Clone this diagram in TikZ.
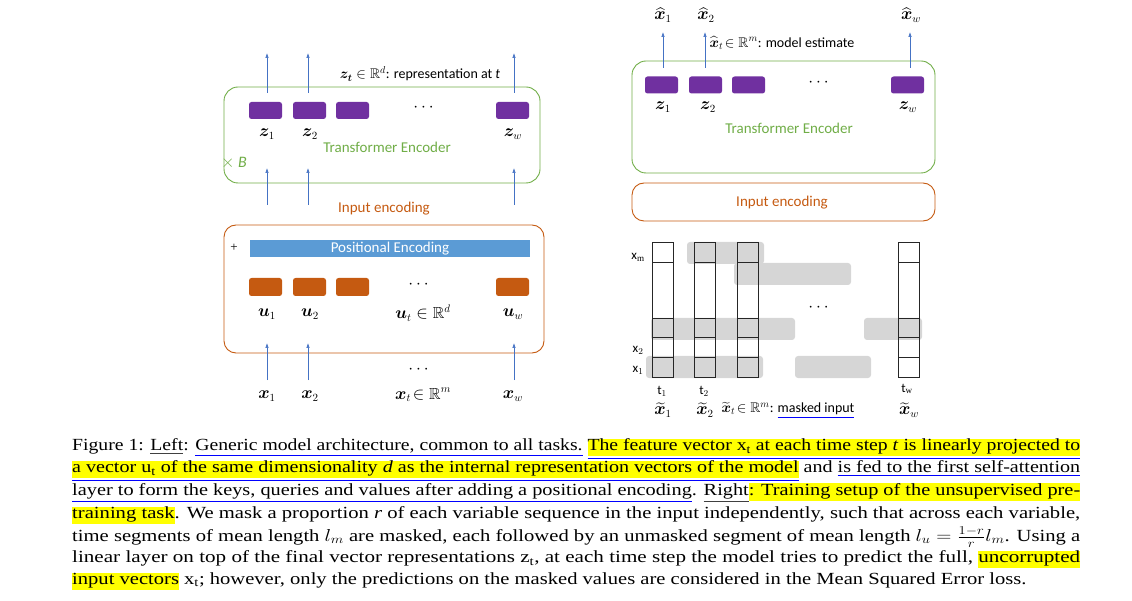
\documentclass[tikz,border=0pt]{standalone}
\usepackage{amsmath,amssymb,bm,graphicx}
\usepackage{fontspec}
\setmainfont{Liberation Serif}
\newfontfamily\carl{Carlito}
\usetikzlibrary{arrows.meta}
\definecolor{grn}{RGB}{112,173,71}
\definecolor{org}{RGB}{197,90,17}
\definecolor{pur}{RGB}{112,48,160}
\definecolor{pblue}{RGB}{91,155,213}
\definecolor{ablue}{RGB}{68,114,196}
\definecolor{msk}{RGB}{214,214,214}
\definecolor{hly}{RGB}{255,255,0}
\newcommand{\hlx}[1]{{\setlength{\fboxsep}{0pt}\colorbox{hly}{\strut#1}}}
\newcommand{\bux}[1]{\textcolor{blue}{\underline{\textcolor{black}{#1}}}}
\newcommand{\gux}[1]{\textcolor{darkgray}{\underline{\textcolor{black}{#1}}}}
\newcommand{\fullln}[1]{\resizebox{1008pt}{\height}{#1}}
\newcommand{\partln}[1]{\scalebox{1.21}[1]{#1}}
\begin{document}
\begin{tikzpicture}[x=1pt,y=-1pt,
  gbox/.style={draw=grn,line width=0.9pt,rounded corners=14pt},
  obox/.style={draw=org,line width=0.9pt,rounded corners=12pt},
  pb/.style={fill=pur,rounded corners=2.5pt,minimum width=33pt,minimum height=17pt,inner sep=0},
  ob/.style={fill=org,rounded corners=2.5pt,minimum width=33pt,minimum height=18pt,inner sep=0},
  ar/.style={-{Latex[length=5pt,width=3.5pt]},ablue,line width=0.6pt},
  sl/.style={font=\carl\fontsize{15}{15}\selectfont},
  ml/.style={font=\fontsize{16}{16}\selectfont},
  captxt/.style={anchor=west,inner sep=0,font=\fontsize{17}{17}\selectfont},
  mk/.style={fill=msk,rounded corners=3pt},
  cell/.style={draw=black!85,line width=1pt}]
\path[use as bounding box] (0,0) rectangle (1132,601);
% ---------- LEFT ----------
\draw[gbox] (224,87) rectangle (540,183);
\draw[obox] (224,225) rectangle (544,353);
\foreach \i/\x in {1/265.5,2/309.5,3/352.5,w/512.5}{
  \node[pb] (zl\i) at (\x,110.5) {};
  \node[ob] (ul\i) at (\x,287) {};
}
\node[ml] at (425,108) {$\cdots$};
\node[ml] at (420,285) {$\cdots$};
\node[ml] at (420,370) {$\cdots$};
\node[ml] (zl1t) at (267,134) {$\bm{z}_1$};
\node[ml] (zl2t) at (310,134) {$\bm{z}_2$};
\node[ml] (zlwt) at (513,134) {$\bm{z}_w$};
\node[sl,text=grn] (tel) at (387,147) {Transformer Encoder};
\node[font=\carl\fontsize{16}{16}\selectfont,text=grn] (xb) at (234,163) {$\times$ \textit{B}};
\node[font=\carl\fontsize{14}{14}\selectfont] (rep) at (420,74) {$\bm{z_t}\in\mathbb{R}^d$: representation at \textit{t}};
\node[sl,text=org] (iel) at (384,209) {Input encoding};
\node[font=\fontsize{13}{13}\selectfont] (plus) at (234,248) {+};
\node[fill=pblue,minimum width=280pt,minimum height=17pt,inner sep=0,text=white,sl] (pe) at (390,248.5) {Positional Encoding};
\node[ml] (u1t) at (267,314) {$\bm{u}_1$};
\node[ml] (u2t) at (310,314) {$\bm{u}_2$};
\node[ml] (utt) at (423,313) {$\bm{u}_t\in\mathbb{R}^d$};
\node[ml] (uwt) at (513,314) {$\bm{u}_w$};
\node[ml] (x1t) at (267,396) {$\bm{x}_1$};
\node[ml] (x2t) at (310,396) {$\bm{x}_2$};
\node[ml] (xtt) at (423,395) {$\bm{x}_t\!\in\mathbb{R}^m$};
\node[ml] (xwt) at (513,396) {$\bm{x}_w$};
\foreach \i/\x in {1/267,2/308,w/514}{
  \coordinate (a\i) at (\x,93); \coordinate (b\i) at (\x,53);
  \coordinate (c\i) at (\x,205); \coordinate (d\i) at (\x,168);
  \coordinate (e\i) at (\x,380); \coordinate (f\i) at (\x,343);
  \draw[ar] (a\i) -- (b\i);
  \draw[ar] (c\i) -- (d\i);
  \draw[ar] (e\i) -- (f\i);
}
% ---------- RIGHT ----------
\draw[gbox] (632,61) rectangle (935,173);
\draw[obox] (632,183) rectangle (935,221);
\node[sl,text=org] (ier) at (782,203) {Input encoding};
\node[sl,text=grn] (ter) at (789,128) {Transformer Encoder};
\foreach \i/\x in {1/661.5,2/705.5,3/748.5,w/907.5}{
  \node[pb] (zr\i) at (\x,85) {};
}
\node[ml] at (820,83) {$\cdots$};
\node[ml] (zr1t) at (663,107) {$\bm{z}_1$};
\node[ml] (zr2t) at (708,107) {$\bm{z}_2$};
\node[ml] (zrwt) at (908,107) {$\bm{z}_w$};
\node[ml] (h1) at (663,15) {$\widehat{\bm{x}}_1$};
\node[ml] (h2) at (706,15) {$\widehat{\bm{x}}_2$};
\node[ml] (hw) at (911,15) {$\widehat{\bm{x}}_w$};
\node[font=\carl\fontsize{14}{14}\selectfont] (est) at (782,43) {$\widehat{\bm{x}}_t\!\in\mathbb{R}^m$: model estimate};
\foreach \i/\x in {1/663,2/705,w/910}{
  \coordinate (g\i) at (\x,68); \coordinate (h\i) at (\x,32);
  \draw[ar] (g\i) -- (h\i);
}
% masks
\path[mk] (687,242) rectangle (764,264);
\path[mk] (734,263) rectangle (851,285);
\path[mk] (651,318) rectangle (795,340);
\path[mk] (864,318) rectangle (922,340);
\path[mk] (646,356) rectangle (763,378);
\path[mk] (795,356) rectangle (871,378);
\foreach \x in {652,694,737,898}{
  \draw[cell] (\x,243) rectangle (\x+21,377);
  \foreach \yy in {263,319,338,358} \draw[cell] (\x,\yy) -- (\x+21,\yy);
}
\node[ml] at (820,308) {$\cdots$};
\node[font=\carl\fontsize{13}{13}\selectfont] (lxm) at (638,257) {x$_\mathrm{m}$};
\node[font=\carl\fontsize{13}{13}\selectfont] (lx2) at (638,350) {x$_2$};
\node[font=\carl\fontsize{13}{13}\selectfont] (lx1) at (638,370) {x$_1$};
\node[font=\carl\fontsize{13}{13}\selectfont] (lt1) at (662,391) {t$_1$};
\node[font=\carl\fontsize{13}{13}\selectfont] (lt2) at (704,391) {t$_2$};
\node[font=\carl\fontsize{13}{13}\selectfont] (ltw) at (907,389) {t$_\mathrm{w}$};
\node[ml] (tx1) at (663,410) {$\widetilde{\bm{x}}_1$};
\node[ml] (tx2) at (705,410) {$\widetilde{\bm{x}}_2$};
\node[ml] (txw) at (909,410) {$\widetilde{\bm{x}}_w$};
\node[font=\carl\fontsize{14}{14}\selectfont] (txt) at (788,410) {$\widetilde{\bm{x}}_t\!\in\mathbb{R}^m$: \bux{masked input}};
% ---------- CAPTION ----------
\node[captxt] (c1) at (72,449) {\fullln{Figure 1: \gux{Left}: \bux{Generic model architecture, common to all tasks.} \bux{\hlx{The feature vector x$_\mathrm{t}$ at each time step \textit{t} is linearly projected to}}}};
\node[captxt] (c2) at (72,471) {\fullln{\bux{\hlx{a vector u$_\mathrm{t}$ of the same dimensionality \textit{d} as the internal representation vectors of the model}} and \bux{is fed to the first self-attention}}};
\node[captxt] (c3) at (72,493) {\fullln{\bux{layer to form the keys, queries and values after adding a positional encoding}. \gux{Right}\hlx{: Training setup of the unsupervised pre-}}};
\node[captxt] (c4) at (72,515) {\fullln{\hlx{training task}. We mask a proportion \textit{r} of each variable sequence in the input independently, such that across each variable,}};
\node[captxt] (c5) at (72,537) {\fullln{time segments of mean length $l_m$ are masked, each followed by an unmasked segment of mean length $l_u=\frac{1-r}{r}l_m$. Using a}};
\node[captxt] (c6) at (72,559) {\fullln{linear layer on top of the final vector representations z$_\mathrm{t}$, at each time step the model tries to predict the full, \hlx{uncorrupted}}};
\node[captxt] (c7) at (72,581) {\partln{\hlx{input vectors} x$_\mathrm{t}$; however, only the predictions on the masked values are considered in the Mean Squared Error loss.}};
\end{tikzpicture}
\end{document}
